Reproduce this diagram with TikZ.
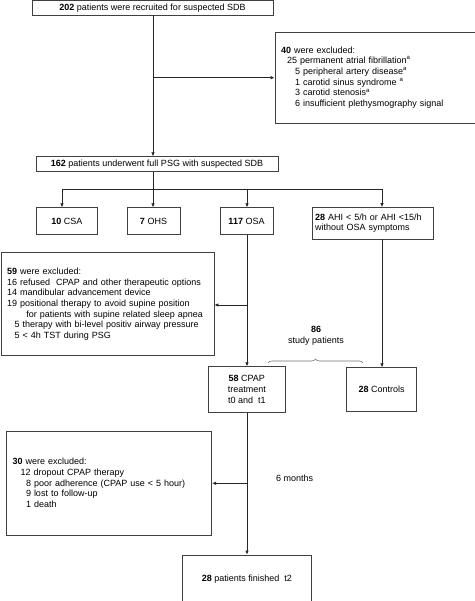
\documentclass[tikz,border=0pt]{standalone}
\usepackage{fontspec}
\setmainfont{Liberation Sans}
\usetikzlibrary{arrows.meta,decorations.pathreplacing}
\begin{document}
\begin{tikzpicture}[x=1pt,y=-1pt,
  font=\fontsize{9}{10.7}\selectfont,
  box/.style={draw=black!75,line width=0.8pt,inner sep=0pt,align=center},
  exbox/.style={draw=black!75,line width=0.8pt,inner ysep=0pt,inner xsep=6pt,align=left},
  arr/.style={draw=black!85,line width=0.8pt,-{Latex[length=4pt,width=3.6pt]}},
  ln/.style={draw=black!85,line width=0.8pt}]
\useasboundingbox (0,0) rectangle (474,601);
\fill[white] (0,0) rectangle (474,601);
% boxes
\node[box,minimum width=241pt,minimum height=14.5pt] (top) at (152.5,7.75) {\textbf{202} patients were recruited for suspected SDB};
\node[exbox,text width=198pt,minimum height=91pt] (ex1) at (380,77.5) {\textbf{40} were excluded:\\
\hspace*{6pt}25 permanent atrial fibrillation\textsuperscript{a}\\
\hspace*{14pt}5 peripheral artery disease\textsuperscript{a}\\
\hspace*{14pt}1 carotid sinus syndrome \textsuperscript{a}\\
\hspace*{14pt}3 carotid stenosis\textsuperscript{a}\\
\hspace*{14pt}6 insufficient plethysmography signal};
\node[box,minimum width=242pt,minimum height=15pt] (c162) at (157,164.2) {\textbf{162} patients underwent full PSG with suspected SDB};
\node[box,minimum width=61.7pt,minimum height=26.6pt] (csa) at (66.8,221) {\textbf{10} CSA};
\node[box,minimum width=53pt,minimum height=26.6pt] (ohs) at (153.5,221) {\textbf{7} OHS};
\node[box,minimum width=53pt,minimum height=26.6pt] (osa) at (246.5,221) {\textbf{117} OSA};
\node[box,minimum width=121pt,minimum height=31.5pt,text width=115pt,align=left] (ahi) at (372.5,223.2) {\textbf{28} AHI < 5/h or AHI <15/h\\without OSA symptoms};
\node[exbox,text width=201pt,minimum height=103pt] (ex2) at (107.5,304.2) {\textbf{59} were excluded:\\
16 refused\ \ CPAP and other therapeutic options\\
14 mandibular advancement device\\
19 positional therapy to avoid supine position\\
\hspace*{19.4pt}for patients with supine related sleep apnea\\
\hspace*{7.7pt}5 therapy with bi-level positiv airway pressure\\
\hspace*{7.7pt}5 < 4h TST during PSG};
\node[align=center,inner sep=0pt] (study) at (316,336) {\textbf{86}\\study patients};
\node[box,minimum width=77pt,minimum height=45.6pt] (cpap) at (246.8,389.5) {\textbf{58} CPAP\\treatment\\t0 and\ \ t1};
\node[box,minimum width=70pt,minimum height=44pt] (ctrl) at (381.7,389.7) {\textbf{28} Controls};
\node[exbox,text width=193pt,minimum height=104pt] (ex3) at (109.2,483) {\textbf{30} were excluded:\\
\hspace*{8pt}12 dropout CPAP therapy\\
\hspace*{13.3pt}8 poor adherence (CPAP use < 5 hour)\\
\hspace*{13.3pt}9 lost to follow-up\\
\hspace*{13.3pt}1 death};
\node[anchor=west,inner sep=0pt] (months) at (276,478.3) {6 months};
\node[box,minimum width=128.3pt,minimum height=48pt] (fin) at (246.9,579) {\textbf{28} patients finished\ \ t2};
% junctions
\coordinate (j1) at (153,77.7);
\coordinate (j2) at (153,189);
\coordinate (ja) at (62,189);
\coordinate (jc) at (247,189);
\coordinate (jd) at (382,189);
\coordinate (j3) at (247,305);
\coordinate (j4) at (247,483.3);
\coordinate (bl) at (268,363);
\coordinate (br) at (363,363);
% connectors
\draw[arr] (top.south -| j1) -- (c162.north -| j1);
\draw[arr] (j1) -- (ex1.west |- j1);
\draw[ln] (c162.south -| j2) -- (j2);
\draw[ln] (ja) -- (jd);
\draw[arr] (ja) -- (csa.north -| ja);
\draw[arr] (j2) -- (ohs.north -| j2);
\draw[arr] (jc) -- (osa.north -| jc);
\draw[arr] (jd) -- (ahi.north -| jd);
\draw[arr] (osa.south -| jc) -- (cpap.north -| jc);
\draw[arr] (j3) -- (ex2.east |- j3);
\draw[arr] (ahi.south -| jd) -- (ctrl.north -| jd);
\draw[arr] (cpap.south -| j4) -- (fin.north -| j4);
\draw[arr] (j4) -- (ex3.east |- j4);
\draw[black!55,line width=0.6pt,decorate,decoration={brace,amplitude=4pt}] (bl) -- (br);
\end{tikzpicture}
\end{document}
